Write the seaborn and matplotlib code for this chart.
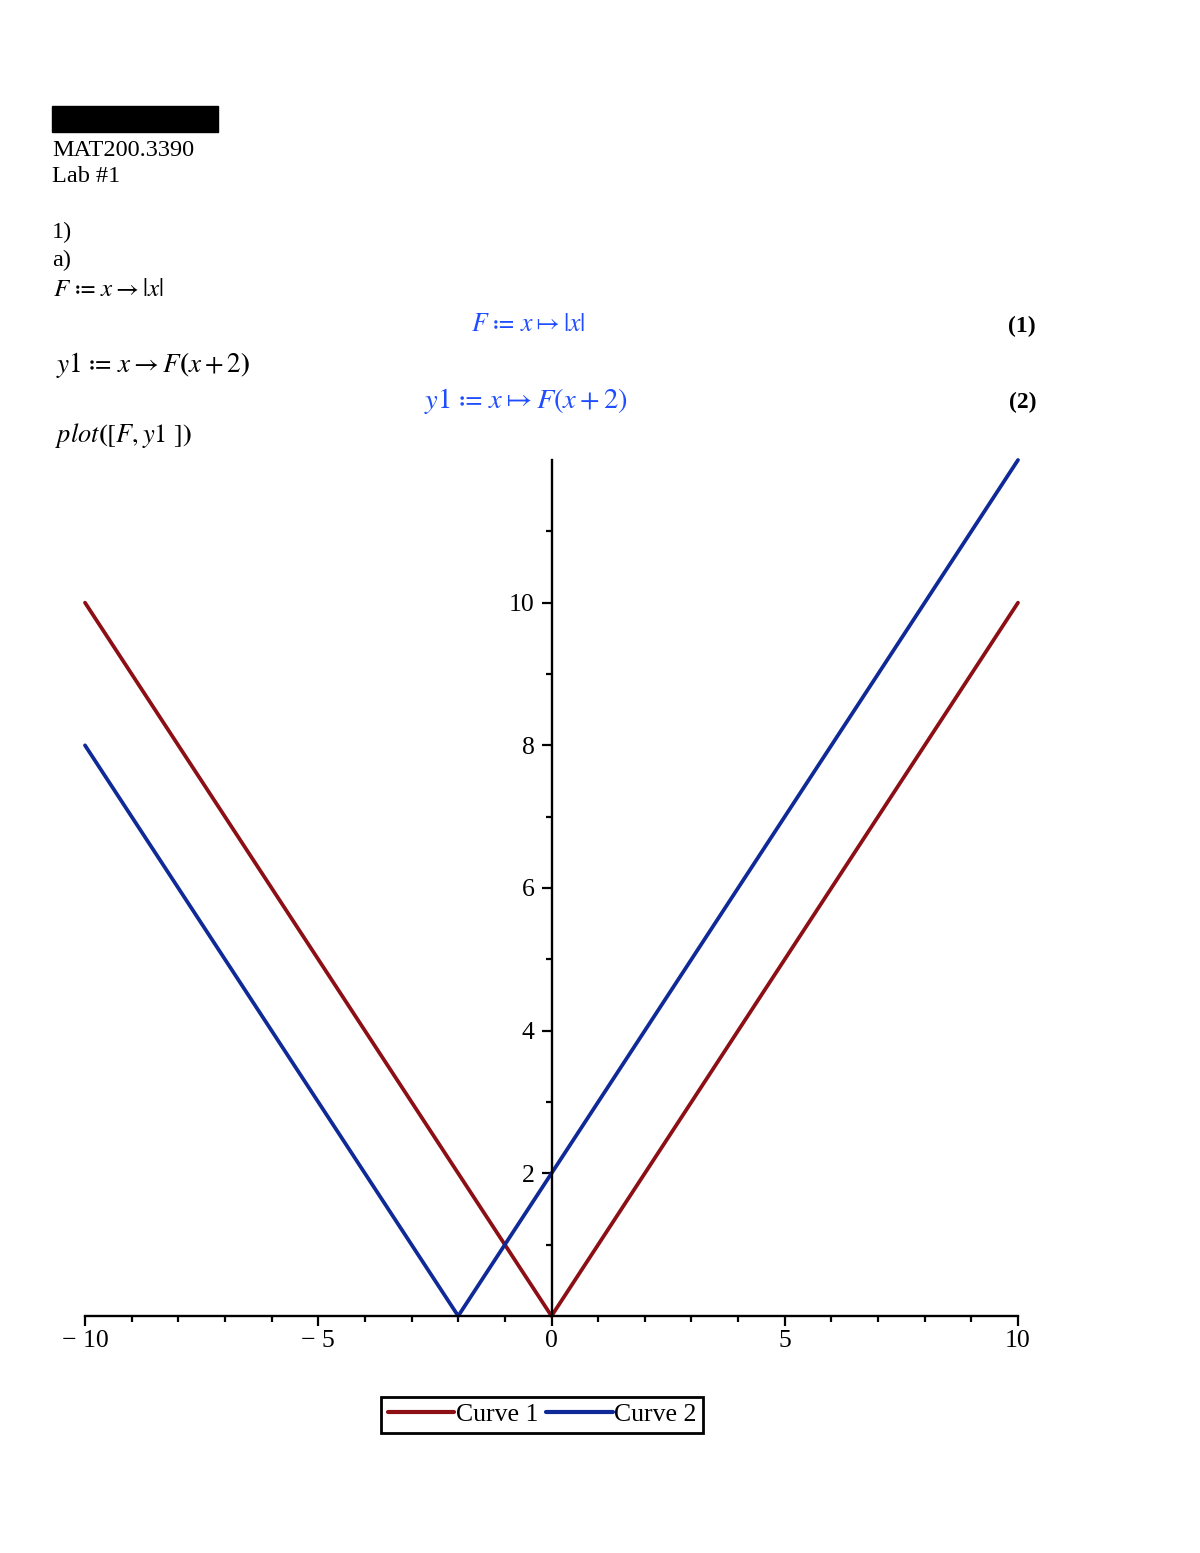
import matplotlib
matplotlib.use("Agg")
import matplotlib.pyplot as plt
import pandas as pd
import seaborn as sns

# Data
curve1_x = [-10, 0, 10]
curve1_y = [10, 0, 10]
curve2_x = [-10, -2, 10]
curve2_y = [8, 0, 12]
curve_names = ["Curve 1", "Curve 2"]
curve_colors = ["#8B0F14", "#0F2A96"]

x_major = [-10, -5, 0, 5, 10]
x_labels = ["\u2212 10", "\u2212 5", "0", "5", "10"]
x_minor = list(range(-10, 11))
y_major = [2, 4, 6, 8, 10]
y_minor = [1, 3, 5, 7, 9, 11]

sns.set_style("white")
plt.rcParams["font.family"] = ["Liberation Serif", "DejaVu Serif"]
plt.rcParams["mathtext.fontset"] = "stix"
plt.rcParams["text.color"] = "black"
plt.rcParams["axes.edgecolor"] = "black"
plt.rcParams["xtick.color"] = "black"
plt.rcParams["ytick.color"] = "black"

df = pd.concat([
    pd.DataFrame({"x": curve1_x, "y": curve1_y, "curve": curve_names[0]}),
    pd.DataFrame({"x": curve2_x, "y": curve2_y, "curve": curve_names[1]}),
])

fig = plt.figure(figsize=(12, 15.53), dpi=100)
fig.patch.set_facecolor("white")

# redacted name block
fig.patches.append(plt.Rectangle((52 / 1200, 1 - 132 / 1553), 166 / 1200, 26 / 1553,
                                 transform=fig.transFigure, color="black"))


def fy(py):
    return 1 - py / 1553


blue = "#1F4DFF"
fig.text(52 / 1200, fy(150), "MAT200.3390", fontsize=17.5, va="center")
fig.text(52 / 1200, fy(177), "Lab #1", fontsize=17.5, va="center")
fig.text(52 / 1200, fy(232), "1)", fontsize=17.5, va="center")
fig.text(52 / 1200, fy(260), "a)", fontsize=17.5, va="center")
fig.text(53 / 1200, fy(290), "$F\\ \u2254\\ x \\rightarrow |x|$", fontsize=18, va="center")
fig.text(528 / 1200, fy(325), "$F\\ \u2254\\ x \\mapsto |x|$", fontsize=18.5,
         va="center", ha="center", color=blue)
fig.text(1036 / 1200, fy(326), "(1)", fontsize=17, va="center", ha="right", fontweight="bold")
fig.text(56 / 1200, fy(365), "$y1\\ \u2254\\ x \\rightarrow F\\mathbf{(}x + 2\\mathbf{)}$",
         fontsize=19.5, va="center")
fig.text(526 / 1200, fy(401), "$y1\\ \u2254\\ x \\mapsto F(x + 2)$", fontsize=20.5,
         va="center", ha="center", color=blue)
fig.text(1036 / 1200, fy(402), "(2)", fontsize=17, va="center", ha="right", fontweight="bold")
fig.text(55 / 1200, fy(436), "$plot\\mathbf{(}[F, y1\\ ]\\mathbf{)}$", fontsize=19, va="center")

# plot area
ax = fig.add_axes([85 / 1200, fy(1316), 933 / 1200, 856 / 1553])
sns.lineplot(data=df, x="x", y="y", hue="curve", palette=curve_colors,
             sort=False, estimator=None, linewidth=2.7, ax=ax)
for line in ax.get_lines():
    line.set_clip_on(False)
handles, labels = ax.get_legend_handles_labels()
ax.get_legend().remove()

ax.set_xlim(-10, 10)
ax.set_ylim(0, 12)
ax.set_xlabel("")
ax.set_ylabel("")
ax.set_facecolor("white")
for side in ["top", "right"]:
    ax.spines[side].set_visible(False)
ax.spines["left"].set_position(("data", 0))
ax.spines["left"].set_linewidth(1.7)
ax.spines["bottom"].set_linewidth(1.7)

ax.set_xticks(x_major)
ax.set_xticklabels(x_labels, fontsize=18.5)
ax.set_xticks(x_minor, minor=True)
ax.set_yticks(y_major)
ax.set_yticklabels([str(v) for v in y_major], fontsize=18.5)
ax.set_yticks(y_minor, minor=True)
ax.tick_params(axis="x", which="major", direction="out", length=7, width=1.6, pad=3, bottom=True)
ax.tick_params(axis="x", which="minor", direction="out", length=4, width=1.6, bottom=True)
ax.tick_params(axis="y", which="major", direction="out", length=7, width=1.6, pad=5, left=True)
ax.tick_params(axis="y", which="minor", direction="out", length=4, width=1.6, left=True)

leg = fig.legend(handles, labels, loc="upper center", bbox_to_anchor=(542 / 1200, fy(1397)),
                 ncol=2, fontsize=18.5, frameon=True, fancybox=False, handlelength=2.6,
                 handletextpad=0.05, columnspacing=0.3, borderpad=0.25,
                 borderaxespad=0, framealpha=1)
leg.get_frame().set_edgecolor("black")
leg.get_frame().set_linewidth(2)
for h in leg.legend_handles:
    h.set_linewidth(3)

fig.savefig("out.png", dpi=100, facecolor="white")
